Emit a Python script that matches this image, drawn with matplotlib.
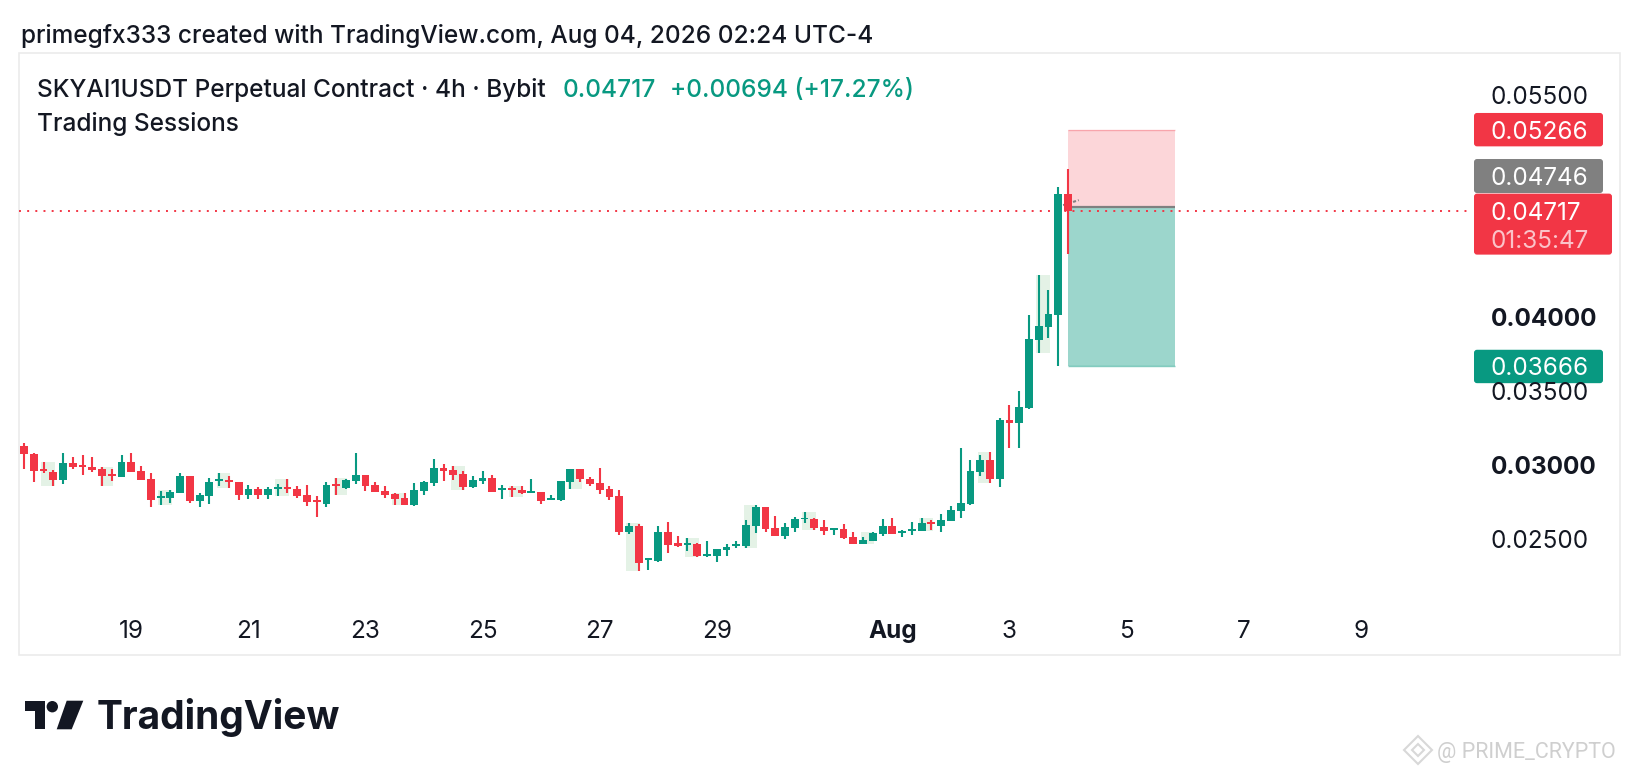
import matplotlib
matplotlib.use("Agg")
import matplotlib.pyplot as plt
from matplotlib.patches import Rectangle, FancyBboxPatch, Polygon, Circle
import numpy as np

plt.rcParams['font.family'] = ['Inter', 'DejaVu Sans']

# SKYAI1USDT 4h candles, Jul 17 04:00 -> Aug 4 00:00 (UTC-4)
opens = [0.03128, 0.03076, 0.02973, 0.02953, 0.02899, 0.03014, 0.03000, 0.02986, 0.02973, 0.02939,
         0.02921, 0.03020, 0.02959, 0.02905, 0.02779, 0.02779, 0.02813, 0.02926, 0.02759, 0.02793,
         0.02897, 0.02899, 0.02885, 0.02799, 0.02838, 0.02799, 0.02840, 0.02851, 0.02838, 0.02797,
         0.02766, 0.02739, 0.02872, 0.02845, 0.02892, 0.02932, 0.02865, 0.02824, 0.02804, 0.02777,
         0.02732, 0.02824, 0.02878, 0.02978, 0.02966, 0.02939, 0.02853, 0.02894, 0.02912, 0.02833,
         0.02843, 0.02831, 0.02813, 0.02818, 0.02766, 0.02764, 0.02887, 0.02973, 0.02905, 0.02878,
         0.02838, 0.02791, 0.02549, 0.02588, 0.02358, 0.02351, 0.02547, 0.02473, 0.02461, 0.02466,
         0.02387, 0.02387, 0.02428, 0.02455, 0.02455, 0.02588, 0.02716, 0.02574, 0.02522, 0.02576,
         0.02633, 0.02635, 0.02581, 0.02563, 0.02568, 0.02514, 0.02468, 0.02489, 0.02536, 0.02588,
         0.02543, 0.02556, 0.02556, 0.02615, 0.02590, 0.02624, 0.02691, 0.02739, 0.02955, 0.03034,
         0.02907, 0.03304, 0.03286, 0.03385, 0.03847, 0.03934, 0.04016, 0.04831]
highs = [0.03147, 0.03081, 0.03020, 0.02966, 0.03081, 0.03054, 0.03068, 0.03054, 0.02986, 0.02973,
         0.03068, 0.03081, 0.02993, 0.02946, 0.02824, 0.02831, 0.02946, 0.02926, 0.02811, 0.02912,
         0.02946, 0.02926, 0.02885, 0.02865, 0.02851, 0.02851, 0.02872, 0.02905, 0.02858, 0.02865,
         0.02791, 0.02885, 0.02912, 0.02905, 0.03081, 0.02932, 0.02885, 0.02858, 0.02811, 0.02811,
         0.02878, 0.02892, 0.03041, 0.03007, 0.02993, 0.02959, 0.02926, 0.02959, 0.02932, 0.02865,
         0.02858, 0.02858, 0.02905, 0.02818, 0.02797, 0.02892, 0.02973, 0.02973, 0.02919, 0.02980,
         0.02858, 0.02831, 0.02608, 0.02601, 0.02372, 0.02588, 0.02615, 0.02520, 0.02507, 0.02473,
         0.02486, 0.02432, 0.02466, 0.02486, 0.02628, 0.02730, 0.02716, 0.02655, 0.02608, 0.02649,
         0.02682, 0.02642, 0.02628, 0.02574, 0.02601, 0.02547, 0.02514, 0.02547, 0.02635, 0.02642,
         0.02561, 0.02615, 0.02642, 0.02628, 0.02669, 0.02723, 0.03115, 0.03034, 0.03068, 0.03088,
         0.03318, 0.03405, 0.03500, 0.04014, 0.04284, 0.04182, 0.04878, 0.05000]
lows = [0.02973, 0.02887, 0.02948, 0.02860, 0.02874, 0.02975, 0.02932, 0.02953, 0.02860, 0.02892,
        0.02921, 0.02955, 0.02901, 0.02718, 0.02732, 0.02745, 0.02813, 0.02745, 0.02718, 0.02739,
        0.02860, 0.02845, 0.02766, 0.02772, 0.02772, 0.02772, 0.02793, 0.02813, 0.02779, 0.02725,
        0.02651, 0.02718, 0.02799, 0.02838, 0.02872, 0.02824, 0.02818, 0.02779, 0.02732, 0.02732,
        0.02725, 0.02799, 0.02858, 0.02894, 0.02901, 0.02833, 0.02847, 0.02874, 0.02820, 0.02772,
        0.02786, 0.02806, 0.02813, 0.02739, 0.02766, 0.02757, 0.02840, 0.02887, 0.02860, 0.02806,
        0.02766, 0.02529, 0.02536, 0.02286, 0.02293, 0.02345, 0.02407, 0.02448, 0.02421, 0.02380,
        0.02380, 0.02347, 0.02387, 0.02441, 0.02441, 0.02543, 0.02549, 0.02522, 0.02502, 0.02549,
        0.02610, 0.02563, 0.02529, 0.02529, 0.02502, 0.02468, 0.02468, 0.02489, 0.02522, 0.02536,
        0.02514, 0.02529, 0.02556, 0.02563, 0.02549, 0.02624, 0.02644, 0.02732, 0.02928, 0.02880,
        0.02853, 0.03117, 0.03117, 0.03380, 0.03759, 0.03860, 0.03671, 0.04428]
closes = [0.03072, 0.02961, 0.02959, 0.02899, 0.03014, 0.02989, 0.02991, 0.02966, 0.02928, 0.02930,
          0.03020, 0.02955, 0.02901, 0.02766, 0.02791, 0.02818, 0.02926, 0.02759, 0.02797, 0.02885,
          0.02905, 0.02883, 0.02799, 0.02838, 0.02799, 0.02838, 0.02851, 0.02840, 0.02793, 0.02752,
          0.02752, 0.02865, 0.02858, 0.02899, 0.02932, 0.02858, 0.02818, 0.02799, 0.02772, 0.02732,
          0.02831, 0.02885, 0.02980, 0.02961, 0.02934, 0.02853, 0.02899, 0.02912, 0.02820, 0.02843,
          0.02833, 0.02811, 0.02824, 0.02759, 0.02777, 0.02892, 0.02973, 0.02905, 0.02874, 0.02833,
          0.02786, 0.02549, 0.02588, 0.02340, 0.02372, 0.02547, 0.02461, 0.02455, 0.02473, 0.02387,
          0.02399, 0.02432, 0.02448, 0.02466, 0.02595, 0.02716, 0.02570, 0.02522, 0.02581, 0.02635,
          0.02644, 0.02576, 0.02556, 0.02574, 0.02509, 0.02468, 0.02493, 0.02541, 0.02588, 0.02536,
          0.02554, 0.02568, 0.02608, 0.02603, 0.02628, 0.02696, 0.02743, 0.02959, 0.03034, 0.02907,
          0.03304, 0.03286, 0.03392, 0.03851, 0.03939, 0.04020, 0.04831, 0.04717]

# candle numbers where the highlighted session starts (one per day)
session_starts = [3, 9, 15, 21, 27, 33, 39, 45, 51, 57, 63, 69, 75, 81, 87, 93, 99, 105]

day_ticks = [12, 24, 36, 48, 60, 72, 90, 102, 114, 126, 138]
day_labels = ['19', '21', '23', '25', '27', '29', 'Aug', '3', '5', '7', '9']

price_ticks = [0.055, 0.040, 0.035, 0.030, 0.025]
bold_ticks = [0.040, 0.030]

last_price = 0.04717
change = 0.00694
change_pct = 17.27
countdown = '01:35:47'

# short position tool
entry = 0.04746
stop = 0.05266
target = 0.03666
pos_start = 108
pos_len = 11

GREEN = '#089981'
RED = '#F23645'
GRAY = '#808080'
TEXT = '#131722'

W, H = 1640, 776
fig = plt.figure(figsize=(W / 100, H / 100), dpi=100)

# background layer in pixel coordinates (frame, header, logo, price badges)
bg = fig.add_axes([0, 0, 1, 1])
bg.set_xlim(0, W)
bg.set_ylim(H, 0)
bg.axis('off')

ax = fig.add_axes([19 / W, 1 - 612 / H, (1470 - 19) / W, (612 - 53) / H])
ax.set_facecolor('none')
step = 9.757  # pixels per candle
ax.set_xlim(1 - 5 / step, 1 + (1470 - 24) / step)
ax.set_ylim(0.02007, 0.05784)

o = np.array(opens)
c = np.array(closes)
x = np.arange(1, len(o) + 1)
cols = np.where(c >= o, GREEN, RED)
min_body = 0.00012
body_h = np.abs(c - o)
body_lo = np.where(body_h < min_body, (o + c) / 2 - min_body / 2, np.minimum(o, c))
body_h = np.maximum(body_h, min_body)

# trading sessions highlight
for s in session_starts:
    lo = min(lows[s - 1], lows[s])
    hi = max(highs[s - 1], highs[s])
    ax.add_patch(Rectangle((s - 0.25, lo), 1.4, hi - lo, fc='#E4F2E6', ec='none', zorder=1))

# position tool
ax.add_patch(Rectangle((pos_start, entry), pos_len, stop - entry, fc=RED, alpha=0.2, ec='none', zorder=2))
ax.add_patch(Rectangle((pos_start, target), pos_len, entry - target, fc=GREEN, alpha=0.4, ec='none', zorder=2))
ax.hlines(stop, pos_start, pos_start + pos_len, color=RED, alpha=0.3, lw=1, zorder=2)
ax.hlines(target, pos_start, pos_start + pos_len, color=GREEN, alpha=0.5, lw=1, zorder=2)
ax.hlines(entry, pos_start, pos_start + pos_len, color=GRAY, lw=1.6, zorder=3)
ax.plot([pos_start - 0.5, pos_start + 1.1], [entry + 0.00010, entry + 0.00044], color=GRAY, lw=1.5,
        ls=(0, (1.5, 1)), zorder=3)

ax.axhline(last_price, color=RED, lw=1.4, ls=(0, (1, 3.2)), zorder=3)

ax.vlines(x, lows, highs, colors=cols, lw=1.5, zorder=4)
ax.bar(x, body_h, bottom=body_lo, width=0.8, color=cols, linewidth=0, zorder=5)

for sp in ax.spines.values():
    sp.set_visible(False)
ax.set_xticks(day_ticks)
ax.set_xticklabels(day_labels)
ax.tick_params(axis='x', length=0, pad=6, labelsize=17.5, labelcolor=TEXT)
for lab in ax.get_xticklabels():
    if lab.get_text() == 'Aug':
        lab.set_fontweight('bold')
ax.yaxis.tick_right()
ax.set_yticks(price_ticks)
ax.set_yticklabels([f'{p:.5f}' for p in price_ticks])
ax.tick_params(axis='y', length=0, pad=15, labelsize=17.5, labelcolor=TEXT)
for lab, p in zip(ax.get_yticklabels(), price_ticks):
    if p in bold_ticks:
        lab.set_fontweight('bold')


def py(p):
    # image-pixel y of a price on the chart axis
    return H - ax.transData.transform((0, p))[1]


def badge(y_top, y_bot, color, right=1603):
    bg.add_patch(FancyBboxPatch((1474, y_top), right - 1474, y_bot - y_top,
                                boxstyle='round,pad=0,rounding_size=3', fc=color, ec='none'))


def badge_text(y, s, color='white'):
    bg.text(1491, y, s, color=color, fontsize=17.5, va='center_baseline')


y = py(stop)
badge(y - 16.7, y + 16.7, RED)
badge_text(y, f'{stop:.5f}')

y = py(last_price)
badge(y - 17.3, y + 43.7, RED, right=1612)
badge_text(y, f'{last_price:.5f}')
badge_text(y + 27.6, countdown, color='#FBC3C9')
badge(y - 51.9, y - 17.9, GRAY)
badge_text(y - 34.9, f'{entry:.5f}')

y = py(target)
badge(y - 16.7, y + 16.7, GREEN)
badge_text(y, f'{target:.5f}')

# outer frame
bg.add_patch(Rectangle((19, 53), 1601, 602, fill=False, ec='#EBEBEB', lw=1.2))

# header
hdr = 17.6
bg.text(21, 43, 'primegfx333 created with TradingView.com, Aug 04, 2026 02:24 UTC-4',
        fontsize=hdr, fontweight='medium', color=TEXT, va='baseline')
bg.text(37, 97, 'SKYAI1USDT Perpetual Contract · 4h · Bybit', fontsize=hdr, fontweight='medium',
        color=TEXT, va='baseline')
bg.text(563, 97, f'{last_price:.5f}', fontsize=hdr, fontweight='medium', color=GREEN, va='baseline')
bg.text(670, 97, f'+{change:.5f} (+{change_pct:.2f}%)', fontsize=hdr, fontweight='medium',
        color=GREEN, va='baseline')
bg.text(37, 131, 'Trading Sessions', fontsize=hdr, fontweight='medium', color=TEXT, va='baseline')

# TradingView logo
bg.add_patch(Rectangle((25, 700.7), 20, 10.3, fc=TEXT, ec='none'))
bg.add_patch(Rectangle((35, 700.7), 10, 28.6, fc=TEXT, ec='none'))
bg.add_patch(Circle((52.3, 706.7), 5.7, fc=TEXT, ec='none'))
bg.add_patch(Polygon([(66.7, 700.7), (83.3, 700.7), (71.7, 729.3), (56.7, 729.3)], fc=TEXT, ec='none'))
bg.text(97, 729.3, 'TradingView', fontsize=28, fontweight='bold', color=TEXT, va='baseline')

# watermark
bg.add_patch(Polygon([(1418, 736), (1432, 750), (1418, 764), (1404, 750)], fill=False, ec='#D8D8D8', lw=1.5))
bg.add_patch(Polygon([(1418, 744), (1424, 750), (1418, 756), (1412, 750)], fill=False, ec='#D8D8D8', lw=1.5))
bg.text(1437, 758, '@ PRIME_CRYPTO', family=['Roboto', 'DejaVu Sans'], fontsize=15.5, color='#CFCFCF',
        va='baseline')

fig.savefig('out.png', dpi=100)
